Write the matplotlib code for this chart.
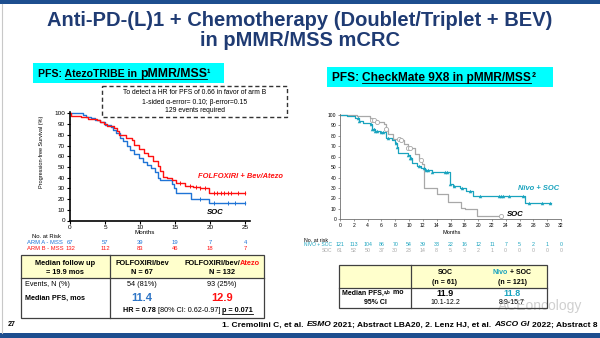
import numpy as np
import matplotlib.pyplot as plt
from matplotlib.patches import Rectangle
from matplotlib.transforms import blended_transform_factory

plt.rcParams['font.family'] = ['Liberation Sans', 'DejaVu Sans']

# AtezoTRIBE PFS (months, % progression-free)
soc_a_t = [0, 1.9, 2.3, 3.0, 3.6, 4.3, 5.0, 5.8, 6.2, 6.6, 7.1, 7.6, 8.1, 8.6, 9.2, 9.8,
           10.4, 11.0, 11.6, 12.1, 12.6, 12.9, 14.6, 14.9, 15.2, 17.3, 19.9]
soc_a_s = [100, 98.5, 97, 95.5, 94, 92, 89.5, 87.5, 85, 82, 77.5, 74, 70, 66, 62, 58.5,
           55, 52, 49, 45, 40, 38, 34, 30, 26, 19.8, 16.5]
soc_a_cens = [18.6, 20.5, 22.6, 23.6, 25.0]

atz_t = [0, 0.2, 1.5, 2.5, 3.8, 4.3, 4.8, 5.3, 6.3, 6.7, 7.0, 8.0, 8.8, 9.2, 9.8, 10.5,
         11.2, 11.9, 12.5, 12.9, 13.3, 13.8, 14.5, 15.2, 16.4, 17.5, 18.6, 19.8]
atz_s = [100, 98, 96.5, 95, 93.5, 92, 90, 88, 86.5, 84, 80, 77, 75.5, 71, 66.5, 63.5,
         60.5, 56, 51, 46, 41, 40, 38, 35, 32.5, 31.5, 30, 25.5]
atz_cens = [15.7, 17.1, 18.0, 18.6, 19.3, 20.5, 21.0, 21.5, 22.0, 22.5, 23.0, 24.0, 25.0]

risk_left_months = [0, 5, 10, 15, 20, 25]
risk_arm_a = [67, 57, 39, 19, 7, 4]
risk_arm_b = [132, 112, 83, 46, 18, 7]

# CheckMate 9X8 PFS
nivo_t = [0, 1.0, 2.2, 2.7, 3.4, 4.3, 4.6, 5.1, 5.8, 6.5, 6.7, 7.5, 8.0, 8.2, 8.4, 9.9,
          10.1, 10.4, 11.1, 11.8, 12.3, 13.3, 15.7, 15.9, 16.4, 17.4, 18.3, 19.3, 26.8]
nivo_s = [100, 99, 97, 94, 92, 91, 87, 85, 84, 83.4, 78, 76, 73, 69, 64, 62,
          58.5, 53.7, 51.4, 49, 47.3, 45.7, 45, 33.5, 32.3, 29.7, 27.2, 22, 16]
nivo_end = 30.5
nivo_cens = [2.6, 2.8, 4.5, 4.7, 4.9, 5.1, 5.4, 6.0, 6.2, 6.9, 8.1, 8.3, 9.9, 10.1, 10.3,
             11.4, 12.2, 12.5, 12.8, 13.3, 15.2, 15.5, 15.9, 16.5, 17.6, 18.8, 20.2,
             23.0, 23.3, 23.6, 24.5, 26.5, 27.3, 29.3, 30.4]

soc_t = [0, 2.5, 4.3, 4.6, 5.3, 6.3, 6.6, 7.0, 7.7, 8.9, 9.3, 9.8, 10.8, 11.4, 11.9,
         12.2, 14.0, 15.6, 17.5, 18.1, 19.8]
soc_s = [100, 99, 97, 95, 93, 91, 87, 81.5, 77, 76, 72, 68.5, 63, 57, 53,
         30, 24, 16.5, 10.5, 9.5, 3.5]
soc_end = 23.3
soc_cens = [4.6, 4.9, 5.4, 6.6, 8.6, 8.9, 9.8, 10.1, 11.7, 23.3]

risk_right_months = list(range(0, 33, 2))
risk_nivo = [121, 113, 104, 86, 70, 54, 39, 33, 22, 16, 12, 11, 7, 5, 2, 1, 0]
risk_soc = [61, 52, 50, 37, 30, 23, 14, 8, 5, 3, 2, 1, 0, 0, 0, 0, 0]

NAVY = '#1F3B73'
BAR = '#1D4E8F'
CYAN = '#00FFFF'
YELLOW = '#FFFFCC'
BLUE = '#1F74D6'
RED = '#FF1010'
TEAL = '#19A3BE'
GRAY = '#A8A8A8'

fig = plt.figure(figsize=(6, 3.38), dpi=100)
ov = fig.add_axes([0, 0, 1, 1])
ov.set_xlim(0, 600)
ov.set_ylim(338, 0)
ov.axis('off')
renderer = fig.canvas.get_renderer()


def px_axes(x0, y0, x1, y1):
    return fig.add_axes([x0 / 600, 1 - y1 / 338, (x1 - x0) / 600, (y1 - y0) / 338])


def extent_w(s, **props):
    t = ov.text(0, 0, s, **props)
    w = t.get_window_extent(renderer).width
    t.remove()
    return w


def text_width(s, **props):
    # measured upright (italic advances are the same); bars keep edge spaces in the extent
    up = dict(props, style='normal')
    return extent_w('|' + s + '|', **up) - extent_w('||', **up)


def rich(x, y, parts, ha='left', va='center', size=5, weight='normal', color='black', **kw):
    items = []
    for s, extra in parts:
        p = dict(size=size, weight=weight, color=color)
        p.update(kw)
        p.update(extra)
        dy = p.pop('dy', 0)
        items.append((s, p, dy, text_width(s, **p)))
    total = sum(it[3] for it in items)
    cx = x - {'left': 0, 'center': total / 2, 'right': total}[ha]
    spans = []
    for s, p, dy, w in items:
        ov.text(cx, y + dy, s, ha='left', va=va, **p)
        spans.append((cx, w))
        cx += w
    return spans


def surv_at(times, surv, t):
    i = np.searchsorted(times, t, side='right') - 1
    return np.asarray(surv)[i]


# frame bars
ov.add_patch(Rectangle((0, 0), 600, 4, color=BAR, lw=0))
ov.add_patch(Rectangle((0, 333), 600, 5, color=BAR, lw=0))
ov.plot([1.5, 1.5], [4, 333], color='#C8C8C8', lw=0.8)

# title
ov.text(300, 20, 'Anti-PD-(L)1 + Chemotherapy (Doublet/Triplet + BEV)', ha='center', va='center',
        size=14.5, weight='bold', color=NAVY)
ov.text(300, 41, 'in pMMR/MSS mCRC', ha='center', va='center', size=14.5, weight='bold', color=NAVY)

# section headers
ov.add_patch(Rectangle((33, 63), 191, 20, color=CYAN, lw=0))
sp = rich(38, 77, [('PFS: AtezoTRIBE in ', dict(size=7.6)), ('pMMR/MSS', dict(size=8.8)),
                   ('¹', dict(size=7.6))], va='baseline', weight='bold')
ov.plot([sp[0][0] + text_width('PFS: ', size=7.6, weight='bold'), sp[1][0] + sp[1][1]],
        [78.5, 78.5], color='black', lw=0.6)

ov.add_patch(Rectangle((327, 67), 226, 20, color=CYAN, lw=0))
sp = rich(332, 81, [('PFS: ', {}), ('CheckMate 9X8 in pMMR/MSS', {}), ('²', {})],
          va='baseline', size=8.6, weight='bold')
ov.plot([sp[1][0], sp[1][0] + sp[1][1]], [82.5, 82.5], color='black', lw=0.6)

# design note box
ov.add_patch(Rectangle((102, 86), 185, 31, fill=False, ec='#333333', lw=1.0, ls=(0, (3, 2))))
ov.text(195, 93, 'To detect a HR for PFS of 0.66 in favor of arm B', ha='center', va='center', size=4.9)
ov.text(195, 102.5, '1-sided α-error= 0.10; β-error=0.15', ha='center', va='center', size=4.9)
ov.text(195, 111, '129 events required', ha='center', va='center', size=4.9)

# left KM plot
axl = px_axes(70, 112.4, 250, 220.5)
axl.set_xlim(0, 25.7)
axl.set_ylim(0, 101)
axl.step(soc_a_t + [25.0], soc_a_s + [soc_a_s[-1]], where='post', color=BLUE, lw=1.0)
axl.step(atz_t + [25.0], atz_s + [atz_s[-1]], where='post', color=RED, lw=1.0)
axl.plot(soc_a_cens, [surv_at(soc_a_t, soc_a_s, m) for m in soc_a_cens], '|', color=BLUE, ms=3, mew=0.7)
axl.plot(atz_cens, [surv_at(atz_t, atz_s, m) for m in atz_cens], '|', color=RED, ms=3, mew=0.7)
axl.set_xticks(range(0, 26, 5))
axl.set_yticks(range(0, 101, 10))
for s in ['top', 'right']:
    axl.spines[s].set_visible(False)
for s in ['left', 'bottom']:
    axl.spines[s].set_linewidth(1.2)
axl.tick_params(length=2, width=0.8, pad=1.5, labelsize=4.6)
axl.patch.set_alpha(0)

ov.text(42, 152, 'Progression-free Survival (%)', rotation=90, ha='center', va='center', size=4)
ov.text(145, 232, 'Months', ha='center', va='center', size=4.5)
ov.text(198, 176, 'FOLFOXIRI + Bev/Atezo', ha='left', va='center', size=5.4, weight='bold',
        style='italic', color=RED)
ov.text(207, 212, 'SOC', ha='left', va='center', size=5.6, weight='bold', style='italic')

tl = blended_transform_factory(axl.transData, ov.transData)
ov.text(32, 237, 'No. at Risk', ha='left', va='center', size=4.2)
ov.text(27, 242.5, 'ARM A - MSS', ha='left', va='center', size=4.2, color=BLUE)
ov.text(27, 248.5, 'ARM B - MSS', ha='left', va='center', size=4.2, color=RED)
for m, a, b in zip(risk_left_months, risk_arm_a, risk_arm_b):
    axl.text(m, 242.5, str(a), transform=tl, ha='center', va='center', size=4.2, color=BLUE)
    axl.text(m, 248.5, str(b), transform=tl, ha='center', va='center', size=4.2, color=RED)

# right KM plot
axr = px_axes(340, 114.0, 561, 219.3)
axr.set_xlim(0, 32)
axr.set_ylim(0, 101)
axr.step(soc_t + [soc_end], soc_s + [soc_s[-1]], where='post', color=GRAY, lw=0.9)
axr.step(nivo_t + [nivo_end], nivo_s + [nivo_s[-1]], where='post', color=TEAL, lw=0.9)
axr.plot(soc_cens, [surv_at(soc_t, soc_s, m) for m in soc_cens], 'o', mfc='white', mec=GRAY,
         ms=3, mew=0.6, clip_on=False)
axr.plot(nivo_cens, [surv_at(nivo_t, nivo_s, m) for m in nivo_cens], '^', color=TEAL,
         ms=2.5, mew=0, clip_on=False)
axr.set_xticks(risk_right_months)
axr.set_yticks(range(0, 101, 10))
for s in ['top', 'right']:
    axr.spines[s].set_visible(False)
for s in ['left', 'bottom']:
    axr.spines[s].set_linewidth(0.6)
    axr.spines[s].set_color('#707070')
axr.tick_params(length=1.5, width=0.5, pad=1.2, labelsize=3.6, color='#707070')
axr.patch.set_alpha(0)

ov.text(452, 232.7, 'Months', ha='center', va='center', size=4)
ov.text(518, 188, 'Nivo + SOC', ha='left', va='center', size=5.4, weight='bold', style='italic',
        color=TEAL)
ov.text(507, 215, 'SOC', ha='left', va='center', size=5.6, weight='bold', style='italic')

tr = blended_transform_factory(axr.transData, ov.transData)
ov.text(304, 240.7, 'No. at risk', ha='left', va='center', size=3.8)
ov.text(304, 244.5, 'NIVO + SOC', ha='left', va='center', size=3.5, color=TEAL)
ov.text(332, 250, 'SOC', ha='right', va='center', size=3.5, color=GRAY)
for m, a, b in zip(risk_right_months, risk_nivo, risk_soc):
    axr.text(m, 244.5, str(a), transform=tr, ha='center', va='center', size=3.8, color=TEAL)
    axr.text(m, 250, str(b), transform=tr, ha='center', va='center', size=3.8, color=GRAY)

# left results table
ov.add_patch(Rectangle((21, 255), 243, 23, color=YELLOW, lw=0))
ov.add_patch(Rectangle((21, 255), 243, 63, fill=False, ec='#404040', lw=0.9))
ov.plot([21, 264], [278, 278], color='#404040', lw=0.9)
ov.plot([110, 110], [255, 318], color='#404040', lw=0.9)
ov.text(65, 263.3, 'Median follow up', ha='center', va='center', size=5.3, weight='bold')
ov.text(65, 272.3, '= 19.9 mos', ha='center', va='center', size=5.3, weight='bold')
ov.text(142, 263.3, 'FOLFOXIRI/bev', ha='center', va='center', size=5.3, weight='bold')
ov.text(142, 272.3, 'N = 67', ha='center', va='center', size=5.3, weight='bold')
rich(222, 263.3, [('FOLFOXIRI/bev/', {}), ('Atezo', dict(color=RED))], ha='center', size=5.3,
     weight='bold')
ov.text(222, 272.3, 'N = 132', ha='center', va='center', size=5.3, weight='bold')
ov.text(25, 284.3, 'Events, N (%)', ha='left', va='center', size=5.2)
ov.text(142, 284.3, '54 (81%)', ha='center', va='center', size=5.2)
ov.text(222, 284.3, '93 (25%)', ha='center', va='center', size=5.2)
ov.text(25, 298.3, 'Median PFS, mos', ha='left', va='center', size=5.2, weight='bold')
ov.text(142, 298.3, '11.4', ha='center', va='center', size=8, weight='bold', color='#2E75C6')
ov.text(222, 298.3, '12.9', ha='center', va='center', size=8, weight='bold', color=RED)
sp = rich(188, 311, [('HR = 0.78', dict(weight='bold')), (' [80% CI: 0.62-0.97] ', {}),
                     ('p = 0.071', dict(weight='bold'))], ha='center', size=5.2)
ov.plot([sp[2][0], sp[2][0] + sp[2][1]], [314.3, 314.3], color='black', lw=0.6)

# right results table
ov.add_patch(Rectangle((339, 265), 208, 23, color=YELLOW, lw=0))
ov.add_patch(Rectangle((339, 265), 208, 43, fill=False, ec='#404040', lw=0.9))
ov.plot([339, 547], [288, 288], color='#404040', lw=0.9)
ov.plot([411, 411], [265, 308], color='#404040', lw=0.9)
ov.text(445, 272.7, 'SOC', ha='center', va='center', size=5, weight='bold')
ov.text(445, 282.3, '(n = 61)', ha='center', va='center', size=5, weight='bold')
rich(512, 272.7, [('Nivo', dict(color=TEAL)), (' + SOC', {})], ha='center', weight='bold')
ov.text(512, 282.3, '(n = 121)', ha='center', va='center', size=5, weight='bold')
rich(342, 293, [('Median PFS,', {}), ('a,b', dict(size=3.3, dy=-1.5)), (' mo', {})], weight='bold')
ov.text(445, 293, '11.9', ha='center', va='center', size=6.5, weight='bold')
ov.text(512, 293, '11.8', ha='center', va='center', size=6.5, weight='bold', color=TEAL)
ov.text(375, 302, '95% CI', ha='center', va='center', size=5, weight='bold')
ov.text(445, 302, '10.1-12.2', ha='center', va='center', size=5)
ov.text(512, 302, '8.9-15.7', ha='center', va='center', size=5)

# watermark sits behind the table text
ov.text(540, 306, 'ACEoncology', ha='center', va='center', size=10, color='#D0D0D0', zorder=0.5)

# footer
ov.text(8, 325, '27', ha='left', va='center', size=5, weight='bold')
rich(597, 325, [('1. Cremolini C, et al. ', {}), ('ESMO', dict(style='italic')),
                (' ', {}), ('2021; Abstract LBA20, 2. Lenz HJ, et al. ', {}),
                ('ASCO GI', dict(style='italic')), (' ', {}), ('2022; Abstract 8', {})],
     ha='right', size=6, weight='bold')

fig.savefig('out.png', dpi=100)
